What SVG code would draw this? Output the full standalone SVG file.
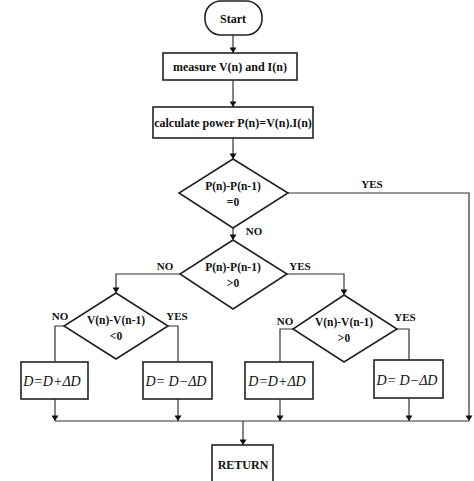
<svg xmlns="http://www.w3.org/2000/svg" width="474" height="481" viewBox="0 0 474 481">
<defs>
<marker id="ah" viewBox="0 0 8 10" refX="8" refY="5" markerWidth="6" markerHeight="7" orient="auto" markerUnits="userSpaceOnUse">
<path d="M0,0 L8,5 L0,10 Z" fill="#111"/>
</marker>
</defs>
<style>
.s{fill:#fff;stroke:#222;stroke-width:1.6}
.c{fill:none;stroke:#333;stroke-width:1.2}
.t{font-family:"Liberation Serif",serif;font-weight:bold;font-size:12px;fill:#111;text-anchor:middle}
.d{font-family:"Liberation Serif",serif;font-size:11.5px;fill:#111;text-anchor:middle;font-weight:bold}
.l{font-family:"Liberation Serif",serif;font-weight:bold;font-size:11px;fill:#111;text-anchor:middle}
.e{font-family:"Liberation Serif",serif;font-style:italic;font-size:14px;fill:#111;text-anchor:middle}
</style>
<rect width="474" height="481" fill="#fff"/>
<g id="connectors">
<line class="c" x1="233" y1="35" x2="233" y2="53" marker-end="url(#ah)"/>
<line class="c" x1="233" y1="80" x2="233" y2="107" marker-end="url(#ah)"/>
<line class="c" x1="233" y1="138" x2="233" y2="159" marker-end="url(#ah)"/>
<polyline class="c" points="288,193 469,193 469,421" marker-end="url(#ah)"/>
<line class="c" x1="233" y1="228" x2="233" y2="240" marker-end="url(#ah)"/>
<polyline class="c" points="180,274 116,274 116,293" marker-end="url(#ah)"/>
<polyline class="c" points="287,274 344,274 344,295" marker-end="url(#ah)"/>
<polyline class="c" points="64,326 55,326 55,362"/>
<polyline class="c" points="168,326 178,326 178,362"/>
<polyline class="c" points="293,329 280,329 280,362"/>
<polyline class="c" points="397,329 409,329 409,360"/>
<line class="c" x1="55" y1="399" x2="55" y2="421" marker-end="url(#ah)"/>
<line class="c" x1="178" y1="399" x2="178" y2="421" marker-end="url(#ah)"/>
<line class="c" x1="280" y1="399" x2="280" y2="421" marker-end="url(#ah)"/>
<line class="c" x1="409" y1="398" x2="409" y2="421" marker-end="url(#ah)"/>
<line class="c" x1="55" y1="421" x2="469" y2="421"/>
<line class="c" x1="243" y1="421" x2="243" y2="445" marker-end="url(#ah)"/>
<text class="l" x="372" y="188">YES</text>
<text class="l" x="254" y="235">NO</text>
<text class="l" x="165" y="270">NO</text>
<text class="l" x="300" y="270">YES</text>
<text class="l" x="60" y="320">NO</text>
<text class="l" x="177" y="320">YES</text>
<text class="l" x="285" y="325">NO</text>
<text class="l" x="405" y="321">YES</text>
</g>
<g id="start">
<rect class="s" x="205" y="1" width="57" height="34" rx="16" ry="16"/>
<text class="t" x="233" y="23">Start</text>
</g>
<g id="measure">
<rect class="s" x="163" y="53" width="134" height="27"/>
<text class="t" x="230" y="71">measure V(n) and I(n)</text>
</g>
<g id="calculate">
<rect class="s" x="153" y="107" width="160" height="31"/>
<text class="t" x="233" y="127" font-size="11.5">calculate power P(n)=V(n).I(n)</text>
</g>
<g id="dec1">
<polygon class="s" points="233,159 288,193 233,228 179,193"/>
<text class="d" x="233" y="190">P(n)-P(n-1)</text>
<text class="d" x="233" y="206">=0</text>
</g>
<g id="dec2">
<polygon class="s" points="233,240 287,274 233,309 180,274"/>
<text class="d" x="233" y="271">P(n)-P(n-1)</text>
<text class="d" x="233" y="287">&gt;0</text>
</g>
<g id="dec3">
<polygon class="s" points="116,293 168,326 116,359 64,326"/>
<text class="d" x="116" y="324">V(n)-V(n-1)</text>
<text class="d" x="116" y="340">&lt;0</text>
</g>
<g id="dec4">
<polygon class="s" points="344,295 397,329 344,362 293,329"/>
<text class="d" x="344" y="326">V(n)-V(n-1)</text>
<text class="d" x="344" y="342">&gt;0</text>
</g>
<g id="inc1">
<rect class="s" x="21" y="362" width="67" height="37"/>
<text class="e" x="52" y="386">D=D+ΔD</text>
</g>
<g id="dec1box">
<rect class="s" x="143" y="362" width="69" height="37"/>
<text class="e" x="176" y="386">D= D−ΔD</text>
</g>
<g id="inc2">
<rect class="s" x="245" y="362" width="68" height="37"/>
<text class="e" x="277" y="386">D=D+ΔD</text>
</g>
<g id="dec2box">
<rect class="s" x="374" y="360" width="69" height="38"/>
<text class="e" x="407" y="385">D= D−ΔD</text>
</g>
<g id="return">
<rect class="s" x="212" y="445" width="61" height="45"/>
<text class="t" x="243" y="469">RETURN</text>
</g>
</svg>
